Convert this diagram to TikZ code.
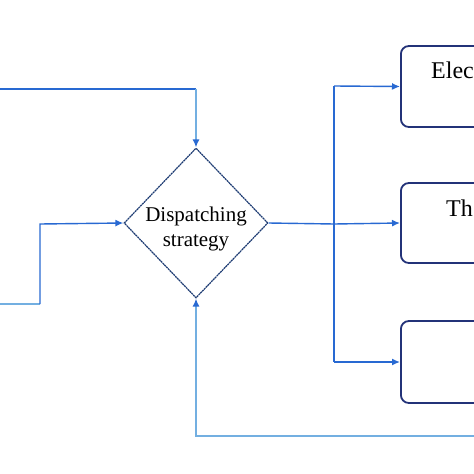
\documentclass[tikz,border=0pt]{standalone}
\usepackage{fontspec}
\setmainfont{Liberation Serif}
\usetikzlibrary{shapes.geometric,arrows.meta}
\definecolor{mainblue}{RGB}{40,105,210}
\definecolor{lightblue}{RGB}{115,175,225}
\definecolor{diamondc}{RGB}{30,60,115}
\definecolor{boxc}{RGB}{35,50,120}
\tikzset{
  conn/.style={draw=mainblue, line width=1.4pt},
  connl/.style={draw=lightblue, line width=1.4pt},
  tip/.style={-{Latex[length=8pt,width=7pt,color=mainblue]}},
  decision/.style={diamond, draw=diamondc, line width=1.2pt, dash pattern=on 2pt off 0.6pt, minimum width=144pt, minimum height=150pt, inner sep=0pt},
  outbox/.style={rectangle, rounded corners=8pt, draw=boxc, line width=1.8pt, minimum width=180pt, inner sep=0pt},
  lbl/.style={font=\fontsize{24}{28}\selectfont, anchor=base west, inner sep=0pt}
}
\begin{document}
\begin{tikzpicture}[x=1pt,y=-1pt]
\useasboundingbox (0,0) rectangle (474,474);
\clip (0,0) rectangle (474,474);
\fill[white] (0,0) rectangle (474,474);
% diamond
\node[decision] (d) at (196,223) {};
\node[font=\fontsize{21}{24.5}\selectfont, align=center, inner sep=0pt] (dt) at (196,229) {Dispatching\\strategy};
% boxes
\node[outbox, minimum height=81pt, anchor=west] (b1) at (400,86.5) {};
\node[outbox, minimum height=80pt, anchor=west] (b2) at (400,223) {};
\node[outbox, minimum height=82pt, anchor=west] (b3) at (400,362) {};
\node[lbl] (t1) at (431,78) {Elec};
\node[lbl] (t2) at (446,216) {Th};
% coordinates
\coordinate (a0) at (0,89);
\coordinate (a1) at (196,89);
\coordinate (c0) at (0,304);
\coordinate (c1) at (40,304);
\coordinate (c2) at (40,224);
\coordinate (s1) at (334,224);
\coordinate (s0) at (334,86);
\coordinate (s2) at (334,362);
\coordinate (e0) at (474,436);
\coordinate (e1) at (196,436);
% top input
\draw[conn] (a0) -- (a1);
\draw[connl,tip] (a1) -- (d.north);
% left input
\draw[connl] (c0) -- (c1);
\draw[conn,tip] (c1) -- (c2) -- (d.west);
% outputs
\draw[conn] (d.east) -- (s1);
\draw[conn] (s0) -- (s2);
\draw[conn,tip] (s1) -- (b2.west);
\draw[conn,tip] (s0) -- (b1.west);
\draw[conn,tip] (s2) -- (b3.west);
% feedback
\draw[connl,tip] (e0) -- (e1) -- (d.south);
\end{tikzpicture}
\end{document}
